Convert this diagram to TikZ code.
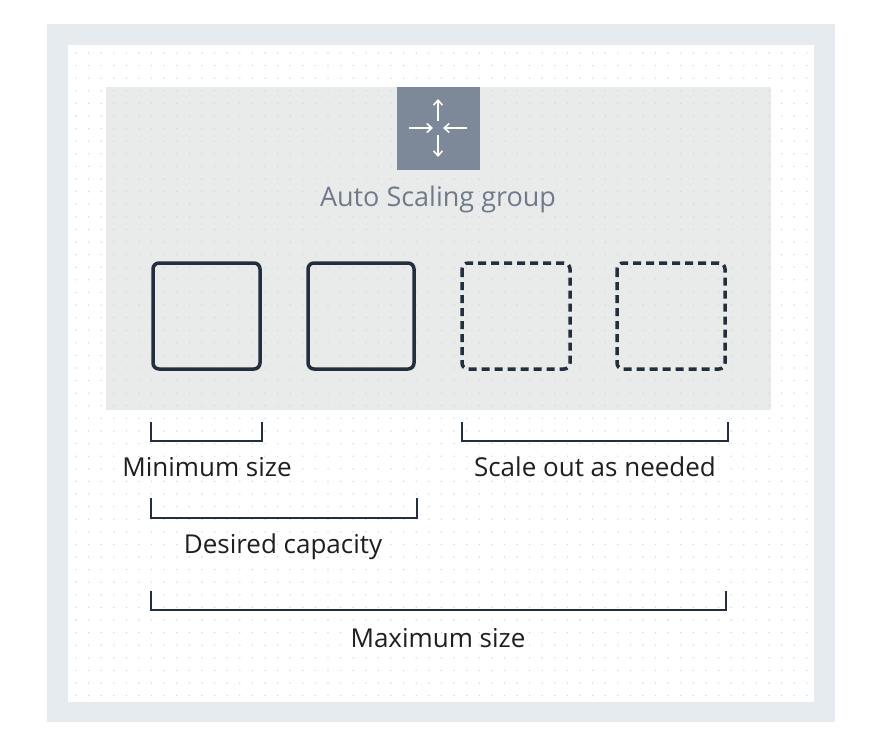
\documentclass[tikz,border=0pt]{standalone}
\usepackage{fontspec}
\setmainfont{Open Sans}
\usetikzlibrary{arrows.meta}
\definecolor{frame}{HTML}{E6EBEF}
\definecolor{groupfill}{HTML}{E9EBEB}
\definecolor{navy}{HTML}{232F3E}
\definecolor{icongray}{HTML}{7D8998}
\definecolor{dotgray}{HTML}{D5D9DC}
\tikzset{
  instance/.style={draw=navy,line width=3.5pt,rounded corners=6pt},
  spare/.style={instance,dash pattern=on 8pt off 5pt},
  bracket/.style={draw=navy,line width=2.8pt},
  lbl/.style={font=\fontsize{26}{30}\selectfont,text=black!88},
  iconarrow/.style={white,line width=1.6pt,-{Straight Barb[length=5pt,width=9pt]}}
}
\begin{document}
\begin{tikzpicture}[x=1pt,y=-1pt]
    \useasboundingbox (0,0) rectangle (890,746);
    \fill[frame] (47,24) rectangle (835,722);
    \fill[white] (68,45) rectangle (814,702);
    \fill[groupfill] (106,87) rectangle (771,410);
    % dotted grid
    \foreach \i in {0,...,58}
      \foreach \j in {0,...,51}
        \fill[dotgray] (76+12.6*\i,53+12.6*\j) circle (0.8);

    % group icon
    \fill[icongray] (397,87) rectangle (480,170);
    \draw[iconarrow] (438,121) -- (438,99);
    \draw[iconarrow] (438,135) -- (438,157);
    \draw[iconarrow] (409,128) -- (433,128);
    \draw[iconarrow] (467,128) -- (443,128);
    \node[font=\fontsize{27}{31}\selectfont,text=icongray!90!black] (grp) at (438,199) {Auto Scaling group};

    \draw[instance] (153,263) rectangle (260,369);
    \draw[instance] (308,263) rectangle (414,369);
    \draw[spare] (462,263) rectangle (570,369);
    \draw[spare] (617,263) rectangle (725,369);

    \draw[bracket] (151,422) -- (151,441) -- (262,441) -- (262,422);
    \node[lbl] (minsize) at (207,467) {Minimum size};
    \draw[bracket] (151,498) -- (151,518) -- (417,518) -- (417,498);
    \node[lbl] (desired) at (283,547) {Desired capacity};
    \draw[bracket] (462,422) -- (462,441) -- (728,441) -- (728,422);
    \node[lbl] (scaleout) at (595,467) {Scale out as needed};
    \draw[bracket] (151,591) -- (151,610) -- (726,610) -- (726,591);
    \node[lbl] (maxsize) at (438,638) {Maximum size};
\end{tikzpicture}
\end{document}
